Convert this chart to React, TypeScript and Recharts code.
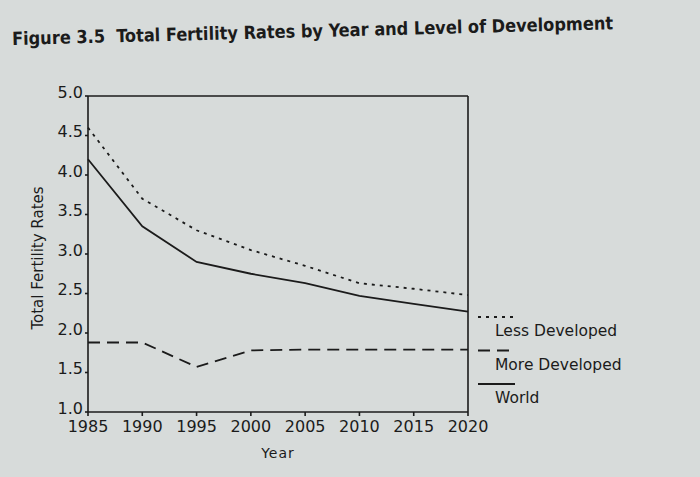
import React from 'react';
import { LineChart, Line, XAxis, YAxis, ReferenceLine } from 'recharts';

// Total fertility rates, five-year steps
const years = [1985, 1990, 1995, 2000, 2005, 2010, 2015, 2020];
const lessDeveloped = [4.6, 3.7, 3.3, 3.05, 2.85, 2.63, 2.56, 2.48];
const moreDeveloped = [1.88, 1.88, 1.57, 1.78, 1.79, 1.79, 1.79, 1.79];
const world = [4.2, 3.35, 2.9, 2.75, 2.63, 2.47, 2.37, 2.27];

const yTicks = [1, 1.5, 2, 2.5, 3, 3.5, 4, 4.5, 5];

const series = [
  { key: 'less', name: 'Less Developed', values: lessDeveloped, dash: '3 5' },
  { key: 'more', name: 'More Developed', values: moreDeveloped, dash: '12 7' },
  { key: 'world', name: 'World', values: world, dash: undefined },
];

const data = years.map((year, i) => ({
  year,
  less: lessDeveloped[i],
  more: moreDeveloped[i],
  world: world[i],
}));

const ink = '#1b1b1b';
const paper = '#d7dbda';
const font = '"DejaVu Sans", Verdana, sans-serif';

function LegendBox() {
  return (
    <svg
      width={200}
      height={120}
      style={{ position: 'absolute', left: 470, top: 300 }}
    >
      {series.map((s, i) => {
        const y = 17 + i * 33.5;
        return (
          <g key={s.key}>
            <line
              x1={8}
              x2={45}
              y1={y}
              y2={y}
              stroke={ink}
              strokeWidth={1.8}
              strokeDasharray={s.dash}
            />
            <text
              x={25}
              y={y + 19}
              fill={ink}
              fontSize={15.5}
              fontFamily={font}
            >
              {s.name}
            </text>
          </g>
        );
      })}
    </svg>
  );
}

export default function App() {
  return (
    <div
      style={{
        position: 'absolute',
        left: 0,
        top: 0,
        width: 700,
        height: 477,
        background: paper,
        overflow: 'hidden',
      }}
    >
      <div
        style={{
          position: 'absolute',
          left: 12,
          top: 28,
          fontFamily: '"DejaVu Sans Condensed", "DejaVu Sans", sans-serif',
          fontWeight: 'bold',
          fontSize: 18,
          color: ink,
          whiteSpace: 'pre',
          transform: 'rotate(-1.5deg)',
          transformOrigin: 'left center',
        }}
      >
        {'Figure 3.5  Total Fertility Rates by Year and Level of Development'}
      </div>

      <LineChart
        width={700}
        height={477}
        data={data}
        margin={{ top: 96, right: 232, bottom: 0, left: 28 }}
      >
        <XAxis
          dataKey="year"
          type="number"
          domain={[1985, 2020]}
          ticks={years}
          interval={0}
          tickSize={4}
          tickMargin={5}
          height={65}
          stroke={ink}
          strokeWidth={1.6}
          tick={{ fill: ink, fontSize: 16, fontFamily: font }}
          label={{
            value: 'Year',
            position: 'insideBottom',
            offset: 19,
            style: { fill: ink, fontSize: 14, fontFamily: font, letterSpacing: 1 },
          }}
        />
        <YAxis
          type="number"
          domain={[1, 5]}
          ticks={yTicks}
          interval={0}
          width={60}
          tickSize={3}
          tickMargin={2}
          stroke={ink}
          strokeWidth={1.6}
          tickFormatter={(v: number) => v.toFixed(1)}
          tick={{ fill: ink, fontSize: 16, fontFamily: font, dy: -4 }}
          label={{
            value: 'Total Fertility Rates',
            angle: -90,
            position: 'insideLeft',
            offset: 10,
            dy: 4,
            style: { fill: ink, fontSize: 15, fontFamily: font, textAnchor: 'middle' },
          }}
        />
        <ReferenceLine y={5} stroke={ink} strokeWidth={1.6} />
        <ReferenceLine x={2020} stroke={ink} strokeWidth={1.6} />
        {series.map((s) => (
          <Line
            key={s.key}
            dataKey={s.key}
            name={s.name}
            type="linear"
            stroke={ink}
            strokeWidth={1.8}
            strokeDasharray={s.dash}
            dot={false}
            isAnimationActive={false}
          />
        ))}
      </LineChart>

      <LegendBox />
    </div>
  );
}
